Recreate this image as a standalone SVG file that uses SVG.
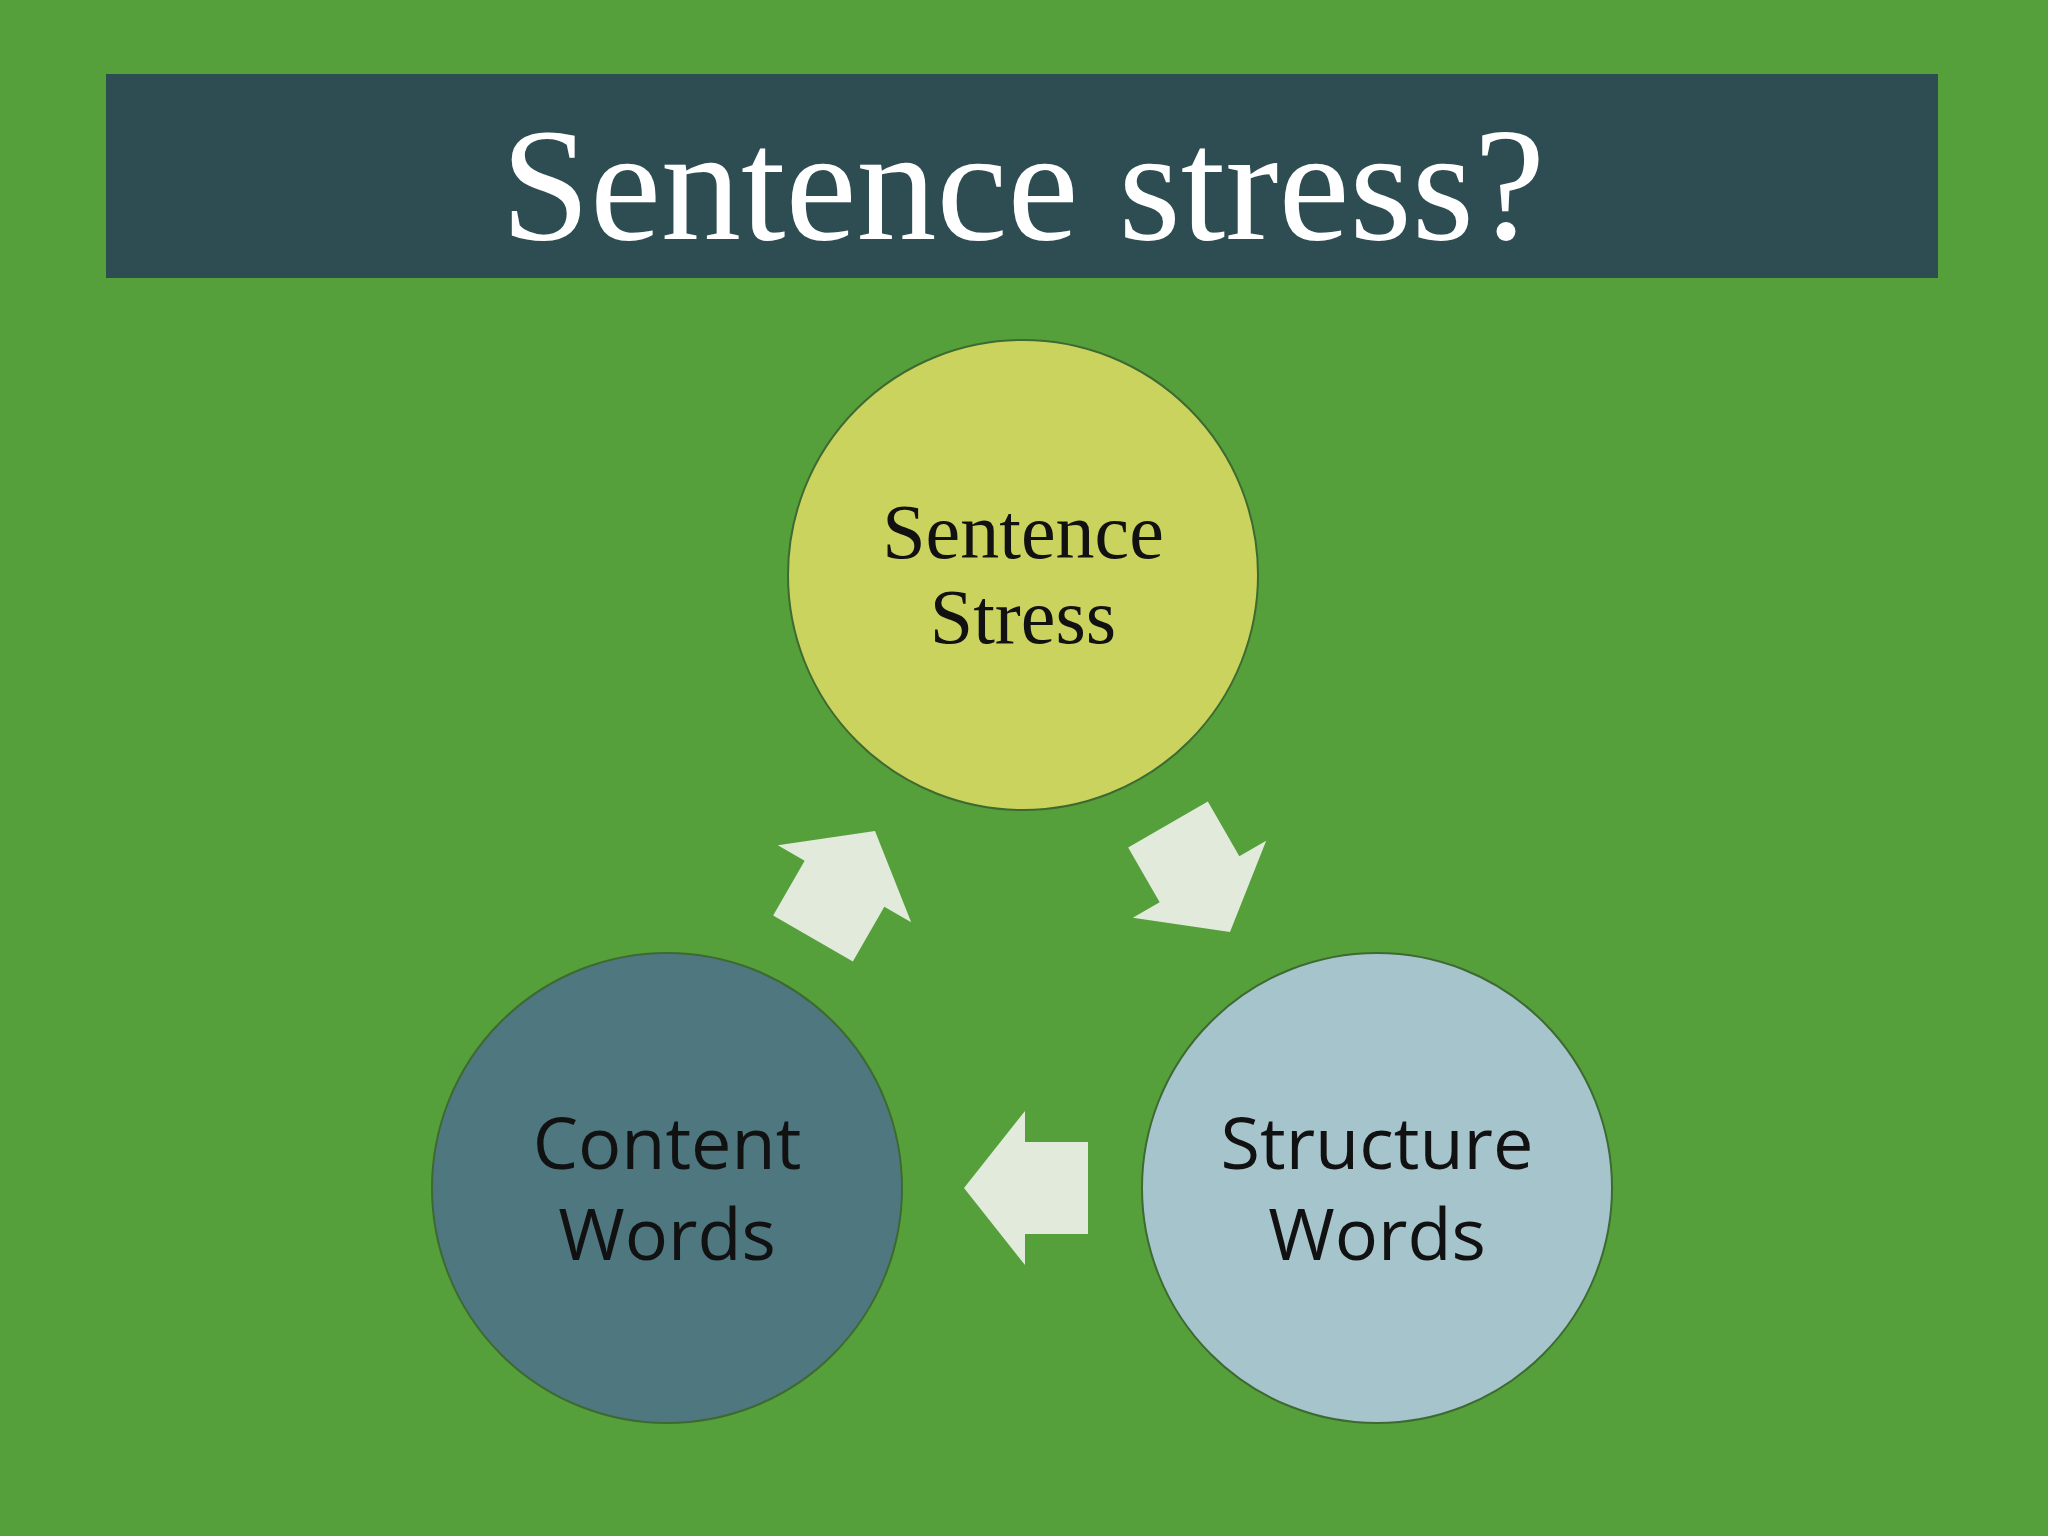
<svg xmlns="http://www.w3.org/2000/svg" width="2048" height="1536" viewBox="0 0 2048 1536">
<style>
.c{stroke:#3d6a30;stroke-width:2}
.serif{font-family:"Liberation Serif",serif;text-anchor:middle}
.sans{font-family:"Open Sans","Liberation Sans",sans-serif;text-anchor:middle;font-size:72px;fill:#111}
.arr{fill:#e2eadc}
</style>
<defs>
<polygon id="a" points="0,0 -61,-77 -61,-46 -124,-46 -124,46 -61,46 -61,77"/>
</defs>
<rect width="2048" height="1536" fill="#55a03a"/>
<g id="title">
<rect x="106" y="74" width="1832" height="204" fill="#2e4d52"/>
<text x="1023" y="239" class="serif" font-size="160" fill="#fff">Sentence stress?</text>
</g>
<g id="connectors">
<use href="#a" class="arr" transform="translate(964,1188) rotate(180)"/>
<use href="#a" class="arr" transform="translate(875,831) rotate(-60)"/>
<use href="#a" class="arr" transform="translate(1230,932) rotate(60)"/>
</g>
<g id="sentence-stress">
<circle cx="1023" cy="575" r="235" fill="#cbd35f" class="c"/>
<text class="serif" font-size="78" fill="#111"><tspan x="1023" y="558">Sentence</tspan><tspan x="1023" y="643">Stress</tspan></text>
</g>
<g id="content-words">
<circle cx="667" cy="1188" r="235" fill="#4e7780" class="c"/>
<text class="sans"><tspan x="667" y="1169">Content</tspan><tspan x="667" y="1260">Words</tspan></text>
</g>
<g id="structure-words">
<circle cx="1377" cy="1188" r="235" fill="#a6c4cc" class="c"/>
<text class="sans"><tspan x="1377" y="1169">Structure</tspan><tspan x="1377" y="1260">Words</tspan></text>
</g>
</svg>
